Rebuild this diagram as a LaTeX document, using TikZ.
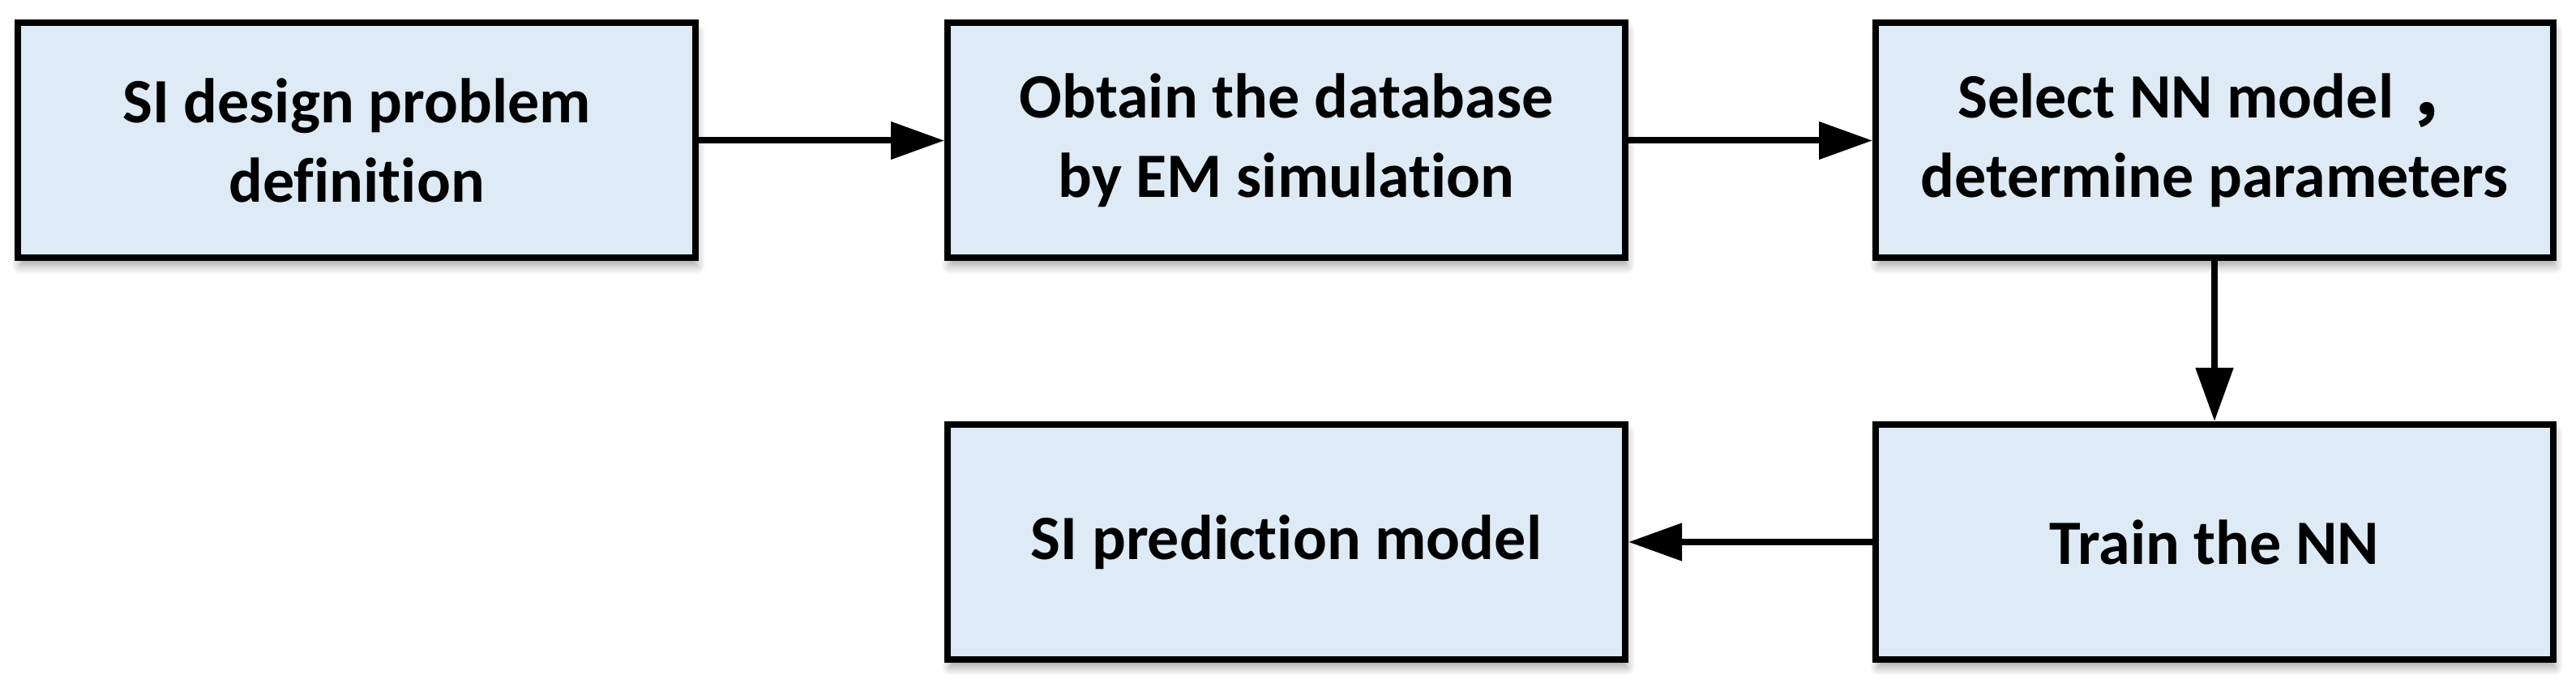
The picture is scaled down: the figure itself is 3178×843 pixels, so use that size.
\documentclass[tikz,border=0pt]{standalone}
\usepackage{fontspec}
\setmainfont{Carlito}[Ligatures={NoCommon}]
\newfontfamily\cjk{Noto Sans CJK SC}
\usetikzlibrary{arrows.meta,shadows.blur}
\definecolor{boxfill}{HTML}{DEEAF6}
\tikzset{
  flowbox/.style={draw=black, line width=2pt, fill=boxfill,
    minimum width=209pt, minimum height=72.5pt, inner sep=0pt,
    align=center, font=\bfseries\fontsize{19.5}{24.5}\selectfont,
    blur shadow={shadow xshift=0.6pt, shadow yshift=-2.5pt, shadow blur steps=8, shadow blur radius=2.5pt, shadow opacity=35}},
  flowarrow/.style={line width=2pt, -{Triangle[length=16.5pt,width=11.25pt]}}
}
\begin{document}
\begin{tikzpicture}[x=0.25pt,y=-0.25pt]
\useasboundingbox (0,0) rectangle (3178,843);
\node[flowbox] (def) at (440,173.5) {SI design problem\\definition};
\node[flowbox] (db) at (1587,173.5) {Obtain the database\\by EM simulation};
\node[flowbox] (sel) at (2732,173.5) {Select NN model {\cjk ，}\\determine parameters};
\node[flowbox] (train) at (2732,669) {Train the NN};
\node[flowbox] (pred) at (1587,669) {SI prediction model};
\draw[flowarrow] (def.east) -- (db.west);
\draw[flowarrow] (db.east) -- (sel.west);
\draw[flowarrow] (sel.south) -- (train.north);
\draw[flowarrow] (train.west) -- (pred.east);
\end{tikzpicture}
\end{document}
